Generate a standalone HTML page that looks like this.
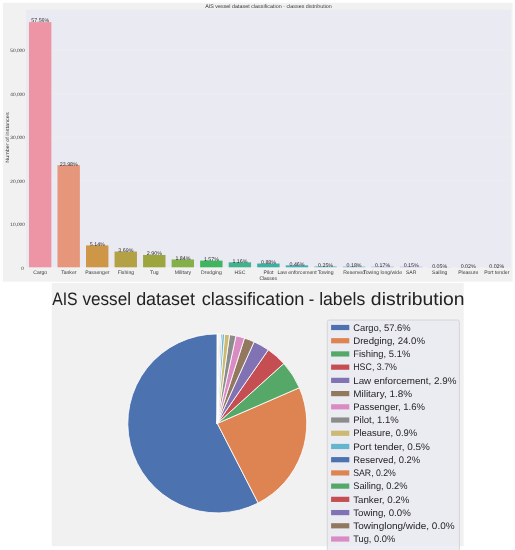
<!DOCTYPE html>
<html><head><meta charset="utf-8"><title>AIS vessel dataset classification</title>
<style>html,body{margin:0;padding:0;background:#ffffff;}body{width:515px;height:550px;overflow:hidden;}svg{display:block;}</style>
</head><body>
<svg width="515" height="550" viewBox="0 0 515 550" text-rendering="geometricPrecision">
<rect x="2.9" y="2.8" width="509.70" height="278.90" fill="#f1f1f1"/>
<rect x="26.0" y="9.7" width="485.00" height="257.60" fill="#eaeaf2"/>
<line x1="26.0" x2="511.0" y1="267.30" y2="267.30" stroke="#ffffff" stroke-width="0.4" opacity="0.25"/>
<line x1="26.0" x2="511.0" y1="223.90" y2="223.90" stroke="#ffffff" stroke-width="0.4" opacity="0.25"/>
<line x1="26.0" x2="511.0" y1="180.50" y2="180.50" stroke="#ffffff" stroke-width="0.4" opacity="0.25"/>
<line x1="26.0" x2="511.0" y1="137.10" y2="137.10" stroke="#ffffff" stroke-width="0.4" opacity="0.25"/>
<line x1="26.0" x2="511.0" y1="93.70" y2="93.70" stroke="#ffffff" stroke-width="0.4" opacity="0.25"/>
<line x1="26.0" x2="511.0" y1="50.30" y2="50.30" stroke="#ffffff" stroke-width="0.4" opacity="0.25"/>
<rect x="28.96" y="22.10" width="22.40" height="245.20" fill="#ED95A4" fill-opacity="1"/>
<rect x="57.49" y="165.15" width="22.40" height="102.15" fill="#E6967B" fill-opacity="1"/>
<rect x="86.02" y="245.40" width="22.40" height="21.90" fill="#CE9747" fill-opacity="1"/>
<rect x="114.55" y="251.58" width="22.40" height="15.72" fill="#B4A045" fill-opacity="1"/>
<rect x="143.08" y="254.95" width="22.40" height="12.35" fill="#9DA53F" fill-opacity="1"/>
<rect x="171.61" y="259.46" width="22.40" height="7.84" fill="#85AF48" fill-opacity="1"/>
<rect x="200.14" y="260.61" width="22.40" height="6.69" fill="#3FB55F" fill-opacity="1"/>
<rect x="228.67" y="262.36" width="22.40" height="4.94" fill="#3FB38E" fill-opacity="1"/>
<rect x="257.20" y="263.55" width="22.40" height="3.75" fill="#3BB0A0" fill-opacity="1"/>
<rect x="285.73" y="265.34" width="22.40" height="1.96" fill="#40B0B5" fill-opacity="1"/>
<rect x="314.26" y="266.24" width="22.40" height="1.06" fill="#52b3c8" fill-opacity="0.7"/>
<rect x="342.79" y="266.53" width="22.40" height="0.77" fill="#54b0e0" fill-opacity="0.7"/>
<rect x="371.32" y="266.58" width="22.40" height="0.72" fill="#88a5f4" fill-opacity="0.7"/>
<rect x="399.85" y="266.66" width="22.40" height="0.64" fill="#b996f4" fill-opacity="0.7"/>
<rect x="428.38" y="267.09" width="22.40" height="0.21" fill="#e180f4" fill-opacity="0.7"/>
<rect x="456.91" y="267.21" width="22.40" height="0.09" fill="#f377dc" fill-opacity="0.7"/>
<rect x="485.44" y="267.21" width="22.40" height="0.09" fill="#f47ebc" fill-opacity="0.7"/>
<g font-family='"Liberation Sans", "DejaVu Sans", sans-serif' font-size="5.3" fill="#2a2a2a" text-anchor="middle">
<text x="40.26" y="22.45">57.56%</text>
<text x="68.79" y="165.50">23.98%</text>
<text x="97.32" y="245.75">5.14%</text>
<text x="125.85" y="251.93">3.69%</text>
<text x="154.38" y="255.30">2.90%</text>
<text x="182.91" y="259.81">1.84%</text>
<text x="211.44" y="260.96">1.57%</text>
<text x="239.97" y="262.71">1.16%</text>
<text x="268.50" y="263.90">0.88%</text>
<text x="297.03" y="265.99">0.46%</text>
<text x="325.56" y="266.89">0.25%</text>
<text x="354.09" y="267.18">0.18%</text>
<text x="382.62" y="267.23">0.17%</text>
<text x="411.15" y="267.31">0.15%</text>
<text x="439.68" y="267.74">0.05%</text>
<text x="468.21" y="267.86">0.02%</text>
<text x="496.74" y="267.86">0.02%</text>
</g>
<g font-family='"Liberation Sans", "DejaVu Sans", sans-serif' font-size="5.1" fill="#3a3a3a" text-anchor="middle">
<text x="40.26" y="274.3">Cargo</text>
<text x="68.79" y="274.3">Tanker</text>
<text x="97.32" y="274.3">Passenger</text>
<text x="125.85" y="274.3">Fishing</text>
<text x="154.38" y="274.3">Tug</text>
<text x="182.91" y="274.3">Military</text>
<text x="211.44" y="274.3">Dredging</text>
<text x="239.97" y="274.3">HSC</text>
<text x="268.50" y="274.3">Pilot</text>
<text x="297.03" y="274.3">Law enforcement</text>
<text x="325.56" y="274.3">Towing</text>
<text x="354.09" y="274.3">Reserved</text>
<text x="382.62" y="274.3">Towing long/wide</text>
<text x="411.15" y="274.3">SAR</text>
<text x="439.68" y="274.3">Sailing</text>
<text x="468.21" y="274.3">Pleasure</text>
<text x="496.74" y="274.3">Port tender</text>
</g>
<g font-family='"Liberation Sans", "DejaVu Sans", sans-serif' font-size="4.8" fill="#3a3a3a" text-anchor="end">
<text x="23.8" y="269.90">0</text>
<text x="24.9" y="226.34">10,000</text>
<text x="24.9" y="182.78">20,000</text>
<text x="24.9" y="139.22">30,000</text>
<text x="24.9" y="95.66">40,000</text>
<text x="24.9" y="52.10">50,000</text>
</g>
<text x="268.5" y="7.7" font-family='"Liberation Sans", "DejaVu Sans", sans-serif' font-size="5.3" fill="#3a3a3a" text-anchor="middle" textLength="126.7" lengthAdjust="spacingAndGlyphs">AIS vessel dataset classification - classes distribution</text>
<text x="268.2" y="279.8" font-family='"Liberation Sans", "DejaVu Sans", sans-serif' font-size="5.2" fill="#3a3a3a" text-anchor="middle" textLength="17.5" lengthAdjust="spacingAndGlyphs">Classes</text>
<text transform="translate(9.0,137.6) rotate(-90)" font-family='"Liberation Sans", "DejaVu Sans", sans-serif' font-size="4.9" fill="#3a3a3a" text-anchor="middle" textLength="50.5" lengthAdjust="spacingAndGlyphs">Number of instances</text>
<rect x="51.8" y="283.1" width="411.90" height="263.10" fill="#f1f1f1"/>
<g font-family='"Liberation Sans", "DejaVu Sans", sans-serif' font-size="18" fill="#222222">
<text x="52.21" y="304.9" textLength="25.41" lengthAdjust="spacingAndGlyphs">AIS</text>
<text x="82.39" y="304.9" textLength="48.64" lengthAdjust="spacingAndGlyphs">vessel</text>
<text x="136.14" y="304.9" textLength="58.87" lengthAdjust="spacingAndGlyphs">dataset</text>
<text x="201.68" y="304.9" textLength="102.75" lengthAdjust="spacingAndGlyphs">classification</text>
<text x="308.63" y="304.9" textLength="5.50" lengthAdjust="spacingAndGlyphs">-</text>
<text x="319.14" y="304.9" textLength="46.08" lengthAdjust="spacingAndGlyphs">labels</text>
<text x="370.89" y="304.9" textLength="93.70" lengthAdjust="spacingAndGlyphs">distribution</text>
</g>
<path d="M217.3,423.4 L217.30,333.90 A89.5,89.5 0 1 0 258.17,503.02 Z" fill="#4C72B0" stroke="#ffffff" stroke-width="0.85" stroke-linejoin="round"/>
<path d="M217.3,423.4 L258.17,503.02 A89.5,89.5 0 0 0 299.39,387.73 Z" fill="#DD8452" stroke="#ffffff" stroke-width="0.85" stroke-linejoin="round"/>
<path d="M217.3,423.4 L299.39,387.73 A89.5,89.5 0 0 0 283.83,363.53 Z" fill="#55A868" stroke="#ffffff" stroke-width="0.85" stroke-linejoin="round"/>
<path d="M217.3,423.4 L283.83,363.53 A89.5,89.5 0 0 0 268.29,349.85 Z" fill="#C44E52" stroke="#ffffff" stroke-width="0.85" stroke-linejoin="round"/>
<path d="M217.3,423.4 L268.29,349.85 A89.5,89.5 0 0 0 254.12,341.83 Z" fill="#8172B3" stroke="#ffffff" stroke-width="0.85" stroke-linejoin="round"/>
<path d="M217.3,423.4 L254.12,341.83 A89.5,89.5 0 0 0 244.47,338.12 Z" fill="#937860" stroke="#ffffff" stroke-width="0.85" stroke-linejoin="round"/>
<path d="M217.3,423.4 L244.47,338.12 A89.5,89.5 0 0 0 235.94,335.86 Z" fill="#DA8BC3" stroke="#ffffff" stroke-width="0.85" stroke-linejoin="round"/>
<path d="M217.3,423.4 L235.94,335.86 A89.5,89.5 0 0 0 229.52,334.74 Z" fill="#8C8C8C" stroke="#ffffff" stroke-width="0.85" stroke-linejoin="round"/>
<path d="M217.3,423.4 L229.52,334.74 A89.5,89.5 0 0 0 224.60,334.20 Z" fill="#CCB974" stroke="#ffffff" stroke-width="0.85" stroke-linejoin="round"/>
<path d="M217.3,423.4 L224.60,334.20 A89.5,89.5 0 0 0 222.02,334.02 Z" fill="#64B5CD" stroke="#ffffff" stroke-width="0.85" stroke-linejoin="round"/>
<path d="M217.3,423.4 L222.02,334.02 A89.5,89.5 0 0 0 220.62,333.96 Z" fill="#4C72B0" stroke="#ffffff" stroke-width="0.85" stroke-linejoin="round"/>
<path d="M217.3,423.4 L220.62,333.96 A89.5,89.5 0 0 0 219.60,333.93 Z" fill="#DD8452" stroke="#ffffff" stroke-width="0.85" stroke-linejoin="round"/>
<path d="M217.3,423.4 L219.60,333.93 A89.5,89.5 0 0 0 218.65,333.91 Z" fill="#55A868" stroke="#ffffff" stroke-width="0.85" stroke-linejoin="round"/>
<path d="M217.3,423.4 L218.65,333.91 A89.5,89.5 0 0 0 217.81,333.90 Z" fill="#C44E52" stroke="#ffffff" stroke-width="0.85" stroke-linejoin="round"/>
<path d="M217.3,423.4 L217.81,333.90 A89.5,89.5 0 0 0 217.52,333.90 Z" fill="#8172B3" stroke="#ffffff" stroke-width="0.85" stroke-linejoin="round"/>
<path d="M217.3,423.4 L217.52,333.90 A89.5,89.5 0 0 0 217.41,333.90 Z" fill="#937860" stroke="#ffffff" stroke-width="0.85" stroke-linejoin="round"/>
<path d="M217.3,423.4 L217.41,333.90 A89.5,89.5 0 0 0 217.30,333.90 Z" fill="#DA8BC3" stroke="#ffffff" stroke-width="0.85" stroke-linejoin="round"/>
<rect x="327.3" y="320.0" width="132.10" height="240" rx="1.8" fill="#eaeaf2" fill-opacity="0.8" stroke="#cfcfcf" stroke-width="0.8"/>
<g font-family='"Liberation Sans", "DejaVu Sans", sans-serif' font-size="9.5" fill="#262626">
<rect x="331.1" y="324.90" width="18.2" height="5.2" fill="#4C72B0"/>
<text x="353.2" y="330.70" textLength="57.5" lengthAdjust="spacingAndGlyphs">Cargo, 57.6%</text>
<rect x="331.1" y="338.12" width="18.2" height="5.2" fill="#DD8452"/>
<text x="353.2" y="343.92" textLength="71.8" lengthAdjust="spacingAndGlyphs">Dredging, 24.0%</text>
<rect x="331.1" y="351.34" width="18.2" height="5.2" fill="#55A868"/>
<text x="353.2" y="357.14" textLength="57.1" lengthAdjust="spacingAndGlyphs">Fishing, 5.1%</text>
<rect x="331.1" y="364.56" width="18.2" height="5.2" fill="#C44E52"/>
<text x="353.2" y="370.36" textLength="43.8" lengthAdjust="spacingAndGlyphs">HSC, 3.7%</text>
<rect x="331.1" y="377.78" width="18.2" height="5.2" fill="#8172B3"/>
<text x="353.2" y="383.58" textLength="103.2" lengthAdjust="spacingAndGlyphs">Law enforcement, 2.9%</text>
<rect x="331.1" y="391.00" width="18.2" height="5.2" fill="#937860"/>
<text x="353.2" y="396.80" textLength="58.9" lengthAdjust="spacingAndGlyphs">Military, 1.8%</text>
<rect x="331.1" y="404.22" width="18.2" height="5.2" fill="#DA8BC3"/>
<text x="353.2" y="410.02" textLength="71.8" lengthAdjust="spacingAndGlyphs">Passenger, 1.6%</text>
<rect x="331.1" y="417.44" width="18.2" height="5.2" fill="#8C8C8C"/>
<text x="353.2" y="423.24" textLength="45.5" lengthAdjust="spacingAndGlyphs">Pilot, 1.1%</text>
<rect x="331.1" y="430.66" width="18.2" height="5.2" fill="#CCB974"/>
<text x="353.2" y="436.46" textLength="64.1" lengthAdjust="spacingAndGlyphs">Pleasure, 0.9%</text>
<rect x="331.1" y="443.88" width="18.2" height="5.2" fill="#64B5CD"/>
<text x="353.2" y="449.68" textLength="76.7" lengthAdjust="spacingAndGlyphs">Port tender, 0.5%</text>
<rect x="331.1" y="457.10" width="18.2" height="5.2" fill="#4C72B0"/>
<text x="353.2" y="462.90" textLength="66.9" lengthAdjust="spacingAndGlyphs">Reserved, 0.2%</text>
<rect x="331.1" y="470.32" width="18.2" height="5.2" fill="#DD8452"/>
<text x="353.2" y="476.12" textLength="42.7" lengthAdjust="spacingAndGlyphs">SAR, 0.2%</text>
<rect x="331.1" y="483.54" width="18.2" height="5.2" fill="#55A868"/>
<text x="353.2" y="489.34" textLength="54.3" lengthAdjust="spacingAndGlyphs">Sailing, 0.2%</text>
<rect x="331.1" y="496.76" width="18.2" height="5.2" fill="#C44E52"/>
<text x="353.2" y="502.56" textLength="56.2" lengthAdjust="spacingAndGlyphs">Tanker, 0.2%</text>
<rect x="331.1" y="509.98" width="18.2" height="5.2" fill="#8172B3"/>
<text x="353.2" y="515.78" textLength="57.6" lengthAdjust="spacingAndGlyphs">Towing, 0.0%</text>
<rect x="331.1" y="523.20" width="18.2" height="5.2" fill="#937860"/>
<text x="353.2" y="529.00" textLength="101.4" lengthAdjust="spacingAndGlyphs">Towinglong/wide, 0.0%</text>
<rect x="331.1" y="536.42" width="18.2" height="5.2" fill="#DA8BC3"/>
<text x="353.2" y="542.22" textLength="42.0" lengthAdjust="spacingAndGlyphs">Tug, 0.0%</text>
</g>
</svg>
</body></html>
